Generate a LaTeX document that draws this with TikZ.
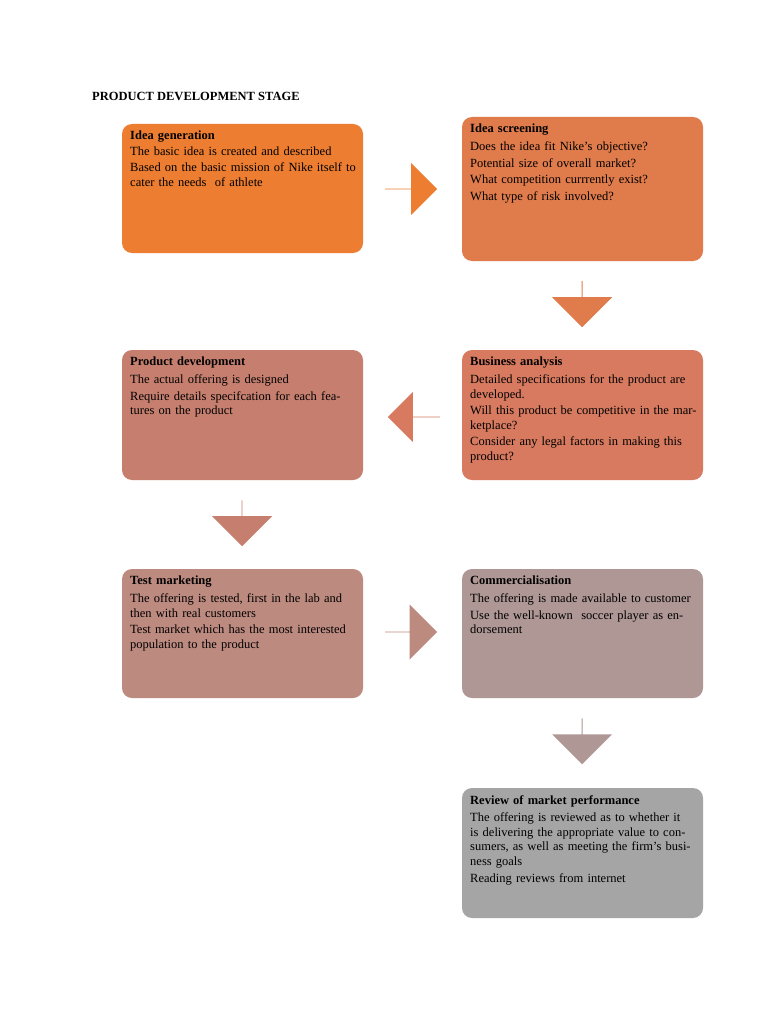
\documentclass[tikz,border=0pt]{standalone}
\usepackage{fontspec}
\setmainfont{Liberation Serif}
\usetikzlibrary{shapes.arrows}
\definecolor{c1}{HTML}{ED7D31}
\definecolor{c2}{HTML}{E07B4B}
\definecolor{c3}{HTML}{D77A5F}
\definecolor{c4}{HTML}{C67F6F}
\definecolor{c5}{HTML}{BD8A80}
\definecolor{c6}{HTML}{AE9794}
\definecolor{c7}{HTML}{A5A5A5}
\tikzset{
  stagebg/.style={rounded corners=10pt, inner sep=0pt},
  stagetxt/.style={anchor=north west, text width=230pt, inner sep=0pt, align=left, font=\fontsize{12.5}{14.6}\selectfont},
  arr/.style={single arrow, draw=none, inner sep=0pt, single arrow head extend=12pt, minimum width=52pt, minimum height=52pt, single arrow tip angle=90}
}
\newcommand{\stagebox}[7]{%
  \fill[#6,stagebg] (#2,#3) rectangle (#4,#5);
  \node[stagetxt] (#1) at (#2+8,#3+7) {#7};}
\begin{document}
\begin{tikzpicture}[x=1pt,y=-1pt]
\useasboundingbox[fill=white] (0,0) rectangle (768,1024);
\node[anchor=west,inner sep=0pt,font=\fontsize{12.5}{15}\selectfont\bfseries] (title) at (92,96) {PRODUCT DEVELOPMENT STAGE};
\stagebox{b1}{122}{124}{363}{253}{c1}{\textbf{Idea generation}\\[3pt]
\parbox{226pt}{\fontsize{12.5}{14.6}\selectfont The basic idea is created and described\par\vspace{2pt}Based on the basic mission of Nike itself to cater the needs\ \ of athlete}}
\stagebox{b2}{462}{117}{703}{261}{c2}{\textbf{Idea screening}\\[3pt]Does the idea fit Nike's objective?\\[2pt]Potential size of overall market?\\[2pt]What competition currrently exist?\\[2pt]What type of risk involved?}
\stagebox{b3}{462}{350}{703}{480}{c3}{\textbf{Business analysis}\\[3pt]Detailed specifications for the product are developed.\\[2pt]Will this product be competitive in the marketplace?\\[2pt]Consider any legal factors in making this product?}
\stagebox{b4}{122}{350}{363}{480}{c4}{\textbf{Product development}\\[3pt]The actual offering is designed\\[2pt]Require details specifcation for each features on the product}
\stagebox{b5}{122}{569}{363}{698}{c5}{\textbf{Test marketing}\\[3pt]The offering is tested, first in the lab and then with real customers\\[2pt]Test market which has the most interested population to the product}
\stagebox{b6}{462}{569}{703}{698}{c6}{\textbf{Commercialisation}\\[3pt]The offering is made available to customer\\[2pt]Use the well-known\ \ soccer player as endorsement}
\stagebox{b7}{462}{788}{703}{918}{c7}{\textbf{Review of market performance}\\[3pt]The offering is reviewed as to whether it is delivering the appropriate value to consumers, as well as meeting the firm's business goals\\[2pt]Reading reviews from internet}
\node[arr,fill=c1,shape border rotate=0] (a1) at (411,189) {};
\node[arr,fill=c2,shape border rotate=270,minimum width=60pt,minimum height=46pt] (a2) at (582,304) {};
\node[arr,fill=c3,shape border rotate=180,minimum width=50pt] (a3) at (414,417) {};
\node[arr,fill=c4,shape border rotate=270,minimum width=60pt,minimum height=46pt] (a4) at (242,523) {};
\node[arr,fill=c5,shape border rotate=0,minimum width=55pt] (a5) at (411,632) {};
\node[arr,fill=c6,shape border rotate=270,minimum width=60pt,minimum height=46pt] (a6) at (582,741) {};
\end{tikzpicture}
\end{document}
